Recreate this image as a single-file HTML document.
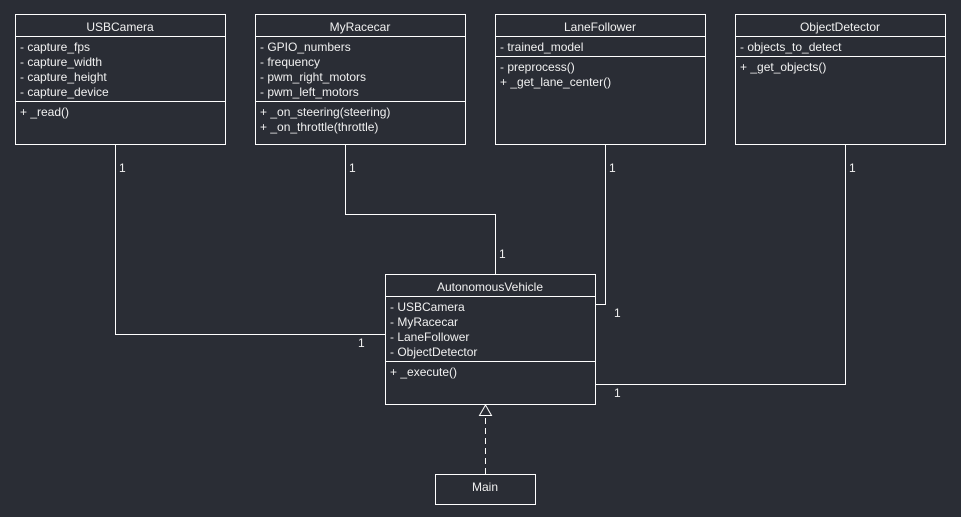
<!DOCTYPE html>
<html><head><style>html,body{margin:0;padding:0;background:#2a2d35;}svg{display:block}</style></head>
<body>
<svg width="961" height="517" xmlns="http://www.w3.org/2000/svg" font-family="Liberation Sans, sans-serif" font-size="12" fill="#f0f0f0">
<rect width="961" height="517" fill="#2a2d35"/>
<g fill="none" stroke="#ffffff" stroke-width="1">
<rect x="15.5" y="14.5" width="210" height="130"/><line x1="15" y1="36.5" x2="226" y2="36.5"/><line x1="15" y1="101.5" x2="226" y2="101.5"/>
<rect x="255.5" y="14.5" width="210" height="130"/><line x1="255" y1="36.5" x2="466" y2="36.5"/><line x1="255" y1="101.5" x2="466" y2="101.5"/>
<rect x="495.5" y="14.5" width="210" height="130"/><line x1="495" y1="36.5" x2="706" y2="36.5"/><line x1="495" y1="56.5" x2="706" y2="56.5"/>
<rect x="735.5" y="14.5" width="210" height="130"/><line x1="735" y1="36.5" x2="946" y2="36.5"/><line x1="735" y1="56.5" x2="946" y2="56.5"/>
<rect x="385.5" y="274.5" width="210" height="130"/><line x1="385" y1="296.5" x2="596" y2="296.5"/><line x1="385" y1="361.5" x2="596" y2="361.5"/>
<rect x="435.5" y="474.5" width="100" height="30"/>
<polyline points="115.5,144 115.5,334.5 385,334.5"/>
<polyline points="345.5,144 345.5,214.5 495.5,214.5 495.5,274"/>
<polyline points="605.5,144 605.5,304.5 596,304.5"/>
<polyline points="845.5,144 845.5,384.5 596,384.5"/>
<line x1="485.5" y1="474" x2="485.5" y2="416" stroke-dasharray="6,4"/>
<polygon points="485.5,405 479.5,415.5 491.5,415.5" fill="#2a2d35"/>
</g>
<g text-anchor="middle">
<text x="120" y="31">USBCamera</text><text x="360" y="31">MyRacecar</text>
<text x="600" y="31">LaneFollower</text><text x="840" y="31">ObjectDetector</text>
<text x="490" y="291">AutonomousVehicle</text><text x="485" y="491">Main</text>
</g>
<text x="20" y="51">- capture_fps</text><text x="20" y="66">- capture_width</text><text x="20" y="81">- capture_height</text><text x="20" y="96">- capture_device</text>
<text x="20" y="116">+ _read()</text>
<text x="260" y="51">- GPIO_numbers</text><text x="260" y="66">- frequency</text><text x="260" y="81">- pwm_right_motors</text><text x="260" y="96">- pwm_left_motors</text>
<text x="260" y="116">+ _on_steering(steering)</text><text x="260" y="131">+ _on_throttle(throttle)</text>
<text x="500" y="51">- trained_model</text><text x="500" y="71">- preprocess()</text><text x="500" y="86">+ _get_lane_center()</text>
<text x="740" y="51">- objects_to_detect</text><text x="740" y="71">+ _get_objects()</text>
<text x="390" y="311">- USBCamera</text><text x="390" y="326">- MyRacecar</text><text x="390" y="341">- LaneFollower</text><text x="390" y="356">- ObjectDetector</text>
<text x="390" y="376">+ _execute()</text>
<text x="119" y="172">1</text><text x="349" y="172">1</text><text x="609" y="172">1</text><text x="849" y="172">1</text>
<text x="499" y="258">1</text><text x="358" y="347">1</text><text x="614" y="317">1</text><text x="614" y="397">1</text>
</svg>
</body></html>
